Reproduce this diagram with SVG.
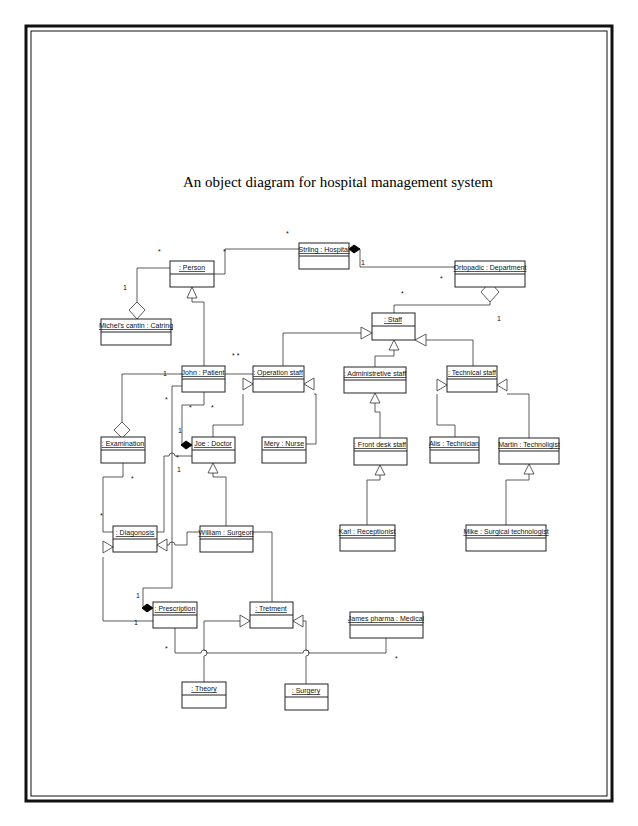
<svg xmlns="http://www.w3.org/2000/svg" width="638" height="826" viewBox="0 0 638 826">
<style>
.b{fill:#fff;stroke:#222;stroke-width:1}
.t{font-family:"Liberation Sans",Arial,sans-serif;font-size:7px;text-decoration:underline;text-anchor:middle;fill:#111}
.m{font-family:"Liberation Sans",Arial,sans-serif;font-size:7px;fill:#111}
.c path{fill:none;stroke:#333;stroke-width:0.8}
.tri{fill:#fff;stroke:#333;stroke-width:0.8}
.dia{fill:#fff;stroke:#333;stroke-width:0.8}
.fd{fill:#000;stroke:#000}
</style>
<rect width="638" height="826" fill="#fff"/>
<rect x="26" y="26" width="586" height="775" fill="none" stroke="#111" stroke-width="3"/>
<rect x="31" y="31" width="576" height="765" fill="none" stroke="#111" stroke-width="1"/>
<text x="338" y="187" text-anchor="middle" font-family="Liberation Serif,serif" font-size="15">An object diagram for hospital management system</text>
<g class="c">
<path d="M214,274H225V249H299"/>
<path d="M360,249V263V267H455"/>
<path d="M170,268H137V302"/>
<path d="M490,302V305H394V313"/>
<path d="M283,366V333H361"/>
<path d="M473,366V340H426"/>
<path d="M375,367V356H394V350"/>
<path d="M204,366V302H192V298"/>
<path d="M225,374H253"/>
<path d="M182,374H122V422"/>
<path d="M204,392V405H182V445H181"/>
<path d="M213,437V425H243V394"/>
<path d="M306,444H316V394H314"/>
<path d="M380,438V412H375V403"/>
<path d="M455,437V425H437V394"/>
<path d="M529,438V394H507"/>
<path d="M367,525V480H380V475"/>
<path d="M506,525V480H529V474"/>
<path d="M226,526V477H213V473"/>
<path d="M123,463V477H103V532H113"/>
<path d="M153,621H103V557"/>
<path d="M157,532H164V456H169a3,3 0 0 1 6,0H192"/>
<path d="M200,532H187V545H175a3,3 0 0 0 -6,0H167"/>
<path d="M182,386H172V588H143V608"/>
<path d="M253,532H272V602"/>
<path d="M204,682V656a3,3 0 0 0 0,-6V621H240"/>
<path d="M306,684V656a3,3 0 0 0 0,-6V621H303"/>
<path d="M175,628V653H201a3,3 0 0 1 6,0H303a3,3 0 0 1 6,0H386V638"/>
</g>
<g id="arrows">
<polygon class="fd" points="349,249 354,245 360,249 354,253"/>
<polygon class="dia" points="137,302 145,310 137,319 129,310"/>
<polygon class="dia" points="490,282 499,292 490,302 481,292"/>
<polygon class="dia" points="122,422 130,430 122,438 114,430"/>
<polygon class="fd" points="181,445 186,441 192,445 186,449"/>
<polygon class="fd" points="142,608 147,604 153,608 147,612"/>
<polygon class="tri" points="372,333 361,327 361,339"/>
<polygon class="tri" points="415,340 426,334 426,346"/>
<polygon class="tri" points="394,340 389,350 399,350"/>
<polygon class="tri" points="192,287 187,298 197,298"/>
<polygon class="tri" points="253,384 243,378 243,390"/>
<polygon class="tri" points="304,384 314,378 314,390"/>
<polygon class="tri" points="375,393 370,403 380,403"/>
<polygon class="tri" points="447,385 437,379 437,391"/>
<polygon class="tri" points="497,385 507,379 507,391"/>
<polygon class="tri" points="380,465 375,475 385,475"/>
<polygon class="tri" points="529,464 524,474 534,474"/>
<polygon class="tri" points="213,463 208,473 218,473"/>
<polygon class="tri" points="113,547 103,541 103,553"/>
<polygon class="tri" points="157,545 167,539 167,551"/>
<polygon class="tri" points="250,621 240,615 240,627"/>
<polygon class="tri" points="293,621 303,615 303,627"/>
</g>
<g id="labels" class="m">
<text x="286" y="236">*</text><text x="158" y="254">*</text><text x="223" y="254">*</text>
<text x="361" y="265">1</text><text x="440" y="281">*</text>
<text x="123" y="290">1</text><text x="401" y="296">*</text><text x="497" y="321">1</text>
<text x="232" y="358">* *</text><text x="163" y="376">1</text><text x="165" y="402">*</text>
<text x="189" y="410">*</text><text x="211" y="410">*</text><text x="178" y="433">1</text>
<text x="177" y="472">1</text><text x="176" y="460">*</text>
<text x="131" y="481">*</text><text x="100" y="518">*</text>
<text x="136" y="598">1</text><text x="134" y="625">1</text>
<text x="165" y="651">*</text><text x="395" y="661">*</text>
</g>
<g id="hospital"><rect class="b" x="299" y="243" width="50" height="26"/><line x1="299" y1="256" x2="349" y2="256" stroke="#222"/><text class="t" x="324" y="252">Strling : Hospital</text></g>
<g id="person"><rect class="b" x="170" y="261" width="44" height="26"/><line x1="170" y1="274" x2="214" y2="274" stroke="#222"/><text class="t" x="192" y="270">: Person</text></g>
<g id="dept"><rect class="b" x="455" y="261" width="70" height="26"/><line x1="455" y1="274" x2="525" y2="274" stroke="#222"/><text class="t" x="490" y="270">Ortopadic : Department</text></g>
<g id="catering"><rect class="b" x="101" y="319" width="70" height="26"/><line x1="101" y1="332" x2="171" y2="332" stroke="#222"/><text class="t" x="136" y="328">Michel's cantin : Catring</text></g>
<g id="staff"><rect class="b" x="372" y="313" width="43" height="27"/><line x1="372" y1="326" x2="415" y2="326" stroke="#222"/><text class="t" x="393" y="322">: Staff</text></g>
<g id="patient"><rect class="b" x="182" y="366" width="43" height="26"/><line x1="182" y1="379" x2="225" y2="379" stroke="#222"/><text class="t" x="203" y="375">John : Patient</text></g>
<g id="opstaff"><rect class="b" x="253" y="366" width="51" height="26"/><line x1="253" y1="379" x2="304" y2="379" stroke="#222"/><text class="t" x="278" y="375">: Operation staff</text></g>
<g id="admin"><rect class="b" x="344" y="367" width="62" height="26"/><line x1="344" y1="380" x2="406" y2="380" stroke="#222"/><text class="t" x="375" y="376">: Administretive staff</text></g>
<g id="tech"><rect class="b" x="447" y="366" width="50" height="26"/><line x1="447" y1="379" x2="497" y2="379" stroke="#222"/><text class="t" x="472" y="375">: Technical staff</text></g>
<g id="exam"><rect class="b" x="101" y="437" width="44" height="26"/><line x1="101" y1="450" x2="145" y2="450" stroke="#222"/><text class="t" x="123" y="446">: Examination</text></g>
<g id="doctor"><rect class="b" x="192" y="437" width="43" height="26"/><line x1="192" y1="450" x2="235" y2="450" stroke="#222"/><text class="t" x="213" y="446">Joe : Doctor</text></g>
<g id="nurse"><rect class="b" x="262" y="437" width="44" height="26"/><line x1="262" y1="450" x2="306" y2="450" stroke="#222"/><text class="t" x="284" y="446">Mery : Nurse</text></g>
<g id="frontdesk"><rect class="b" x="354" y="438" width="53" height="27"/><line x1="354" y1="451" x2="407" y2="451" stroke="#222"/><text class="t" x="380" y="447">: Front desk staff</text></g>
<g id="technician"><rect class="b" x="430" y="437" width="49" height="26"/><line x1="430" y1="450" x2="479" y2="450" stroke="#222"/><text class="t" x="454" y="446">Alis : Technician</text></g>
<g id="technologist"><rect class="b" x="499" y="438" width="60" height="26"/><line x1="499" y1="451" x2="559" y2="451" stroke="#222"/><text class="t" x="529" y="447">Martin : Technoligist</text></g>
<g id="diagnosis"><rect class="b" x="113" y="526" width="44" height="26"/><line x1="113" y1="539" x2="157" y2="539" stroke="#222"/><text class="t" x="135" y="535">: Diagonosis</text></g>
<g id="surgeon"><rect class="b" x="200" y="526" width="53" height="26"/><line x1="200" y1="539" x2="253" y2="539" stroke="#222"/><text class="t" x="226" y="535">William : Surgeon</text></g>
<g id="receptionist"><rect class="b" x="340" y="525" width="55" height="26"/><line x1="340" y1="538" x2="395" y2="538" stroke="#222"/><text class="t" x="367" y="534">Karl : Receptionist</text></g>
<g id="surgtech"><rect class="b" x="466" y="525" width="80" height="26"/><line x1="466" y1="538" x2="546" y2="538" stroke="#222"/><text class="t" x="506" y="534">Mike : Surgical technologist</text></g>
<g id="prescription"><rect class="b" x="153" y="602" width="44" height="26"/><line x1="153" y1="615" x2="197" y2="615" stroke="#222"/><text class="t" x="175" y="611">: Prescription</text></g>
<g id="treatment"><rect class="b" x="250" y="602" width="43" height="26"/><line x1="250" y1="615" x2="293" y2="615" stroke="#222"/><text class="t" x="271" y="611">: Tretment</text></g>
<g id="medical"><rect class="b" x="350" y="612" width="73" height="26"/><line x1="350" y1="625" x2="423" y2="625" stroke="#222"/><text class="t" x="386" y="621">James pharma : Medical</text></g>
<g id="theory"><rect class="b" x="182" y="682" width="44" height="26"/><line x1="182" y1="695" x2="226" y2="695" stroke="#222"/><text class="t" x="204" y="691">: Theory</text></g>
<g id="surgery"><rect class="b" x="285" y="684" width="43" height="26"/><line x1="285" y1="697" x2="328" y2="697" stroke="#222"/><text class="t" x="306" y="693">: Surgery</text></g>
</svg>
